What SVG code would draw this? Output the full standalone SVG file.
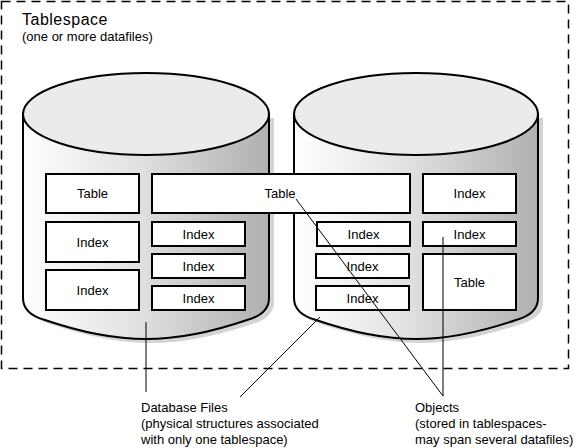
<svg xmlns="http://www.w3.org/2000/svg" width="576" height="448" viewBox="0 0 576 448">
  <defs>
    <linearGradient id="body" x1="0" y1="0" x2="1" y2="0">
      <stop offset="0" stop-color="#ffffff"/>
      <stop offset="0.45" stop-color="#e2e2e2"/>
      <stop offset="1" stop-color="#b0b0b0"/>
    </linearGradient>
  </defs>
  <style>
    text { font-family: "Liberation Sans", Arial, Helvetica, sans-serif; fill: #000; }
    .lbl { font-size: 13px; text-anchor: middle; }
    .note { font-size: 13px; }
    .box { fill: #fff; stroke: #000; stroke-width: 2; }
    .cyl { fill: url(#body); stroke: #000; stroke-width: 2; }
    .top { fill: #ebebeb; stroke: #000; stroke-width: 2; }
    .shadow { fill: #d4d4d4; stroke: none; }
    .lead { fill: none; stroke: #000; stroke-width: 1; }
    .ts { fill: none; stroke: #000; stroke-width: 1.5; stroke-dasharray: 9 6; }
  </style>

  <g id="tablespace">
    <rect class="ts" x="1.5" y="1.5" width="567" height="367"/>
    <text x="22" y="25" style="font-size:16px;letter-spacing:0.5px">Tablespace</text>
    <text class="note" x="22" y="41">(one or more datafiles)</text>
  </g>

  <g id="datafile1">
    <path class="shadow" d="M28,118 L28,302 Q28,318 50,324 C85,336 120,343 151,343 C182,343 217,336 252,324 Q274,318 274,302 L274,118 Z"/>
    <path class="cyl" d="M23,114 L23,298 Q23,314 45,320 C80,332 115,339 146,339 C177,339 212,332 247,320 Q269,314 269,298 L269,114 Z"/>
    <ellipse class="top" cx="146" cy="114" rx="123" ry="41"/>
  </g>

  <g id="datafile2">
    <path class="shadow" d="M299,118 L299,302 Q299,318 321,324 C356,336 391,343 421,343 C451,343 486,336 521,324 Q543,318 543,302 L543,118 Z"/>
    <path class="cyl" d="M294,114 L294,298 Q294,314 316,320 C351,332 386,339 416,339 C446,339 481,332 516,320 Q538,314 538,298 L538,114 Z"/>
    <ellipse class="top" cx="416" cy="114" rx="122" ry="41"/>
  </g>

  <g id="table1"><rect class="box" x="46" y="174" width="93" height="39"/><text class="lbl" x="92.5" y="198">Table</text></g>
  <g id="index1"><rect class="box" x="46" y="222" width="93" height="40"/><text class="lbl" x="92.5" y="246.5">Index</text></g>
  <g id="index2"><rect class="box" x="46" y="270" width="93" height="40"/><text class="lbl" x="92.5" y="294.5">Index</text></g>

  <g id="table2"><rect class="box" x="152" y="174" width="258" height="39"/><text class="lbl" x="280" y="198">Table</text></g>

  <g id="index3"><rect class="box" x="152" y="222" width="93" height="24"/><text class="lbl" x="198.5" y="238.5">Index</text></g>
  <g id="index4"><rect class="box" x="152" y="254" width="93" height="24"/><text class="lbl" x="198.5" y="270.5">Index</text></g>
  <g id="index5"><rect class="box" x="152" y="286" width="93" height="24"/><text class="lbl" x="198.5" y="302.5">Index</text></g>

  <g id="index6"><rect class="box" x="317" y="222" width="93" height="24"/><text class="lbl" x="363.5" y="238.5">Index</text></g>
  <g id="index7"><rect class="box" x="316" y="254" width="93" height="24"/><text class="lbl" x="362.5" y="270.5">Index</text></g>
  <g id="index8"><rect class="box" x="316" y="286" width="93" height="24"/><text class="lbl" x="362.5" y="302.5">Index</text></g>

  <g id="index9"><rect class="box" x="423" y="174" width="93" height="39"/><text class="lbl" x="469.5" y="198">Index</text></g>
  <g id="index10"><rect class="box" x="423" y="222" width="93" height="24"/><text class="lbl" x="469.5" y="238.5">Index</text></g>
  <g id="table3"><rect class="box" x="423" y="254" width="93" height="56"/><text class="lbl" x="469.5" y="286.5">Table</text></g>

  <g id="connectors">
    <line class="lead" x1="146" y1="322" x2="146" y2="392"/>
    <line class="lead" x1="240" y1="397" x2="320" y2="317"/>
    <line class="lead" x1="296" y1="199" x2="443" y2="396"/>
    <line class="lead" x1="443" y1="237" x2="443" y2="396"/>
  </g>

  <g id="label-datafiles">
    <text class="note" x="141" y="412">Database Files</text>
    <text class="note" x="141" y="428">(physical structures associated</text>
    <text class="note" x="141" y="444">with only one tablespace)</text>
  </g>
  <g id="label-objects">
    <text class="note" x="415" y="412">Objects</text>
    <text class="note" x="415" y="428">(stored in tablespaces-</text>
    <text class="note" x="415" y="444">may span several datafiles)</text>
  </g>
</svg>
